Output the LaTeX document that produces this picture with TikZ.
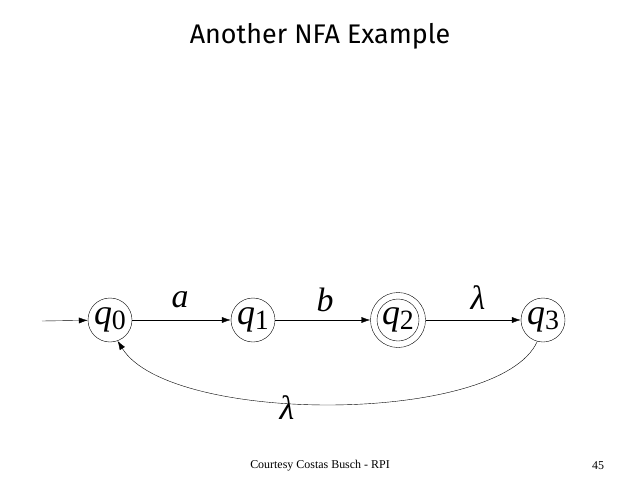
\documentclass[tikz,border=0pt]{standalone}
\usepackage{fontspec}
\setmainfont{Liberation Serif}
\newfontfamily\titlefont{Fira Sans}
\usetikzlibrary{arrows.meta}

\newcommand{\stname}[1]{{\itshape q}\raisebox{-5bp}{\fontsize{28}{28}\selectfont #1}}

\tikzset{
  state/.style={circle, draw, minimum size=44bp, inner sep=0pt, font=\fontsize{36}{36}\selectfont},
  accept/.style={state, minimum size=55bp, text width=40bp, align=center},
  trans/.style={-{Latex[length=9bp,width=6bp]}},
  lbl/.style={font=\fontsize{34}{34}\selectfont\itshape}
}

\begin{document}
\begin{tikzpicture}[x=1bp,y=-1bp]
        \useasboundingbox (0,0) rectangle (638,478);

        \node[font=\titlefont\fontsize{27}{27}\selectfont] (title) at (320,36) {Another NFA Example};

        \node[state] (q0) at (110,320) {\stname{0}};
        \node[state] (q1) at (253,320) {\stname{1}};
        \node[accept] (q2) at (398,320) {\stname{2}};
        \node[state] (q3) at (543,320) {\stname{3}};
        \draw (q2.center) circle[radius=21bp];

        \coordinate (start) at (42,321);
        \draw[trans] (start) -- (q0);
        \draw[trans] (q0) -- (q1);
        \draw[trans] (q1) -- (q2);
        \draw[trans] (q2) -- (q3);
        \draw[trans] (q3.-105) .. controls (500,425) and (170,425) .. (q0.-70);

        \node[lbl] (la) at (180,300) {a};
        \node[lbl] (lb) at (325,300) {b};
        \node[lbl] (ll1) at (478,298) {λ};
        \node[lbl] (ll2) at (287,408) {λ};

        \node[font=\fontsize{12}{12}\selectfont] (foot) at (320,466) {Courtesy Costas Busch - RPI};
        \node[font=\fontsize{12}{12}\selectfont] (page) at (598,466) {45};
\end{tikzpicture}
\end{document}
